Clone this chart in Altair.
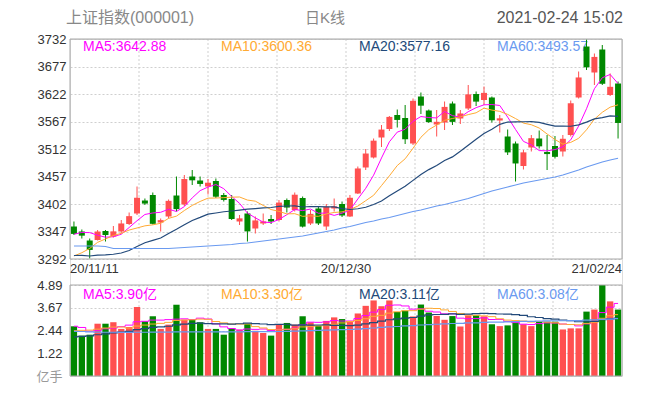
import altair as alt
import pandas as pd

# ---------------- data ----------------
dates = ["2020-11-11","2020-11-12","2020-11-13","2020-11-16","2020-11-17","2020-11-18","2020-11-19","2020-11-20",
         "2020-11-23","2020-11-24","2020-11-25","2020-11-26","2020-11-27","2020-11-30",
         "2020-12-01","2020-12-02","2020-12-03","2020-12-04","2020-12-07","2020-12-08","2020-12-09","2020-12-10",
         "2020-12-11","2020-12-14","2020-12-15","2020-12-16","2020-12-17","2020-12-18","2020-12-21","2020-12-22",
         "2020-12-23","2020-12-24","2020-12-25","2020-12-28","2020-12-29","2020-12-30","2020-12-31",
         "2021-01-04","2021-01-05","2021-01-06","2021-01-07","2021-01-08","2021-01-11","2021-01-12","2021-01-13",
         "2021-01-14","2021-01-15","2021-01-18","2021-01-19","2021-01-20","2021-01-21","2021-01-22","2021-01-25",
         "2021-01-26","2021-01-27","2021-01-28","2021-01-29",
         "2021-02-01","2021-02-02","2021-02-03","2021-02-04","2021-02-05","2021-02-08","2021-02-09","2021-02-10",
         "2021-02-18","2021-02-19","2021-02-22","2021-02-23","2021-02-24"]

opens = [3357, 3347, 3329, 3330, 3348, 3337, 3347, 3362, 3383, 3409,
         3420, 3365, 3377, 3419, 3401, 3457, 3449, 3437, 3448, 3420,
         3412, 3367, 3383, 3353, 3363, 3372, 3370, 3410, 3390, 3414,
         3363, 3393, 3357, 3393, 3402, 3377, 3423, 3475, 3495, 3535,
         3552, 3580, 3574, 3523, 3617, 3589, 3561, 3565, 3603, 3573,
         3593, 3622, 3610, 3615, 3569, 3537, 3523, 3478, 3515, 3533,
         3506, 3518, 3507, 3540, 3615, 3717, 3665, 3711, 3620, 3643]

highs = [3367, 3351, 3333, 3350, 3350, 3358, 3370, 3385, 3437, 3413,
         3425, 3373, 3411, 3457, 3460, 3470, 3457, 3452, 3453, 3424,
         3420, 3380, 3387, 3377, 3383, 3380, 3410, 3413, 3425, 3417,
         3390, 3397, 3402, 3413, 3407, 3420, 3477, 3512, 3533, 3560,
         3578, 3591, 3600, 3613, 3625, 3591, 3590, 3607, 3607, 3590,
         3640, 3627, 3637, 3617, 3580, 3551, 3527, 3510, 3540, 3549,
         3540, 3538, 3540, 3609, 3667, 3731, 3703, 3720, 3663, 3647]

lows = [3340, 3333, 3293, 3329, 3327, 3335, 3343, 3360, 3380, 3400,
        3361, 3347, 3373, 3387, 3398, 3440, 3437, 3421, 3414, 3407,
        3370, 3360, 3327, 3343, 3360, 3362, 3367, 3385, 3387, 3355,
        3360, 3360, 3350, 3387, 3376, 3376, 3422, 3470, 3493, 3516,
        3548, 3555, 3522, 3520, 3582, 3564, 3537, 3550, 3560, 3562,
        3590, 3598, 3600, 3565, 3545, 3500, 3447, 3471, 3507, 3513,
        3470, 3493, 3497, 3537, 3613, 3670, 3640, 3640, 3618, 3533]

closes = [3342.20, 3338.68, 3310.10, 3346.97, 3339.90, 3347.30, 3363.09, 3377.73, 3414.49, 3402.82,
          3362.33, 3369.73, 3408.31, 3391.76, 3451.94, 3449.38, 3442.14, 3444.58, 3416.60, 3410.18,
          3371.96, 3373.28, 3347.19, 3369.12, 3367.23, 3366.98, 3404.87, 3394.90, 3420.57, 3356.78,
          3382.32, 3363.11, 3396.56, 3397.29, 3379.04, 3414.45, 3473.07, 3502.96, 3528.68, 3550.88,
          3576.20, 3570.11, 3531.50, 3608.34, 3598.65, 3565.90, 3566.38, 3596.22, 3566.26, 3583.09,
          3621.26, 3606.75, 3624.24, 3569.43, 3573.34, 3505.18, 3483.07, 3505.28, 3533.68, 3517.31,
          3501.86, 3496.33, 3532.44, 3603.49, 3655.09, 3675.36, 3696.17, 3642.44, 3636.36, 3564.08]

# volume, 亿手
volumes = [2.67, 2.17, 2.22, 2.81, 2.81, 2.89, 2.53, 2.63, 3.71, 2.94,
           3.21, 2.53, 2.76, 3.83, 3.03, 3.03, 2.89, 2.53, 2.53, 2.22,
           2.58, 2.49, 2.81, 2.43, 2.31, 2.17, 2.76, 2.85, 2.76, 3.21,
           2.89, 2.71, 2.96, 3.15, 3.06, 2.90, 3.36, 3.77, 4.06, 3.75,
           4.06, 3.44, 3.51, 3.20, 3.84, 3.41, 3.23, 3.02, 3.22, 2.66,
           3.26, 3.27, 3.21, 2.78, 2.68, 2.72, 2.96, 2.78, 2.68, 2.94,
           2.92, 2.92, 2.50, 2.56, 2.56, 3.46, 3.57, 4.89, 4.01, 3.57]

# sessions before the window (estimated from where the MA lines start)
prior_closes = [3332, 3336, 3313, 3328, 3325, 3313, 3278, 3251, 3254, 3270,
                3273, 3225, 3225, 3272, 3278, 3320, 3312, 3373, 3360]
prior_volumes = [1.55, 1.60, 1.70, 1.90, 1.85, 1.75, 1.70, 1.80, 1.90, 1.85,
                 2.00, 2.10, 2.30, 2.20, 2.40, 2.50, 3.20, 2.60, 2.40]

# MA60 lines
ma60_price = [3318, 3318, 3318, 3318, 3317, 3313, 3313, 3313, 3313, 3313,
              3313, 3313, 3313, 3314, 3315, 3316, 3317, 3318, 3319, 3320,
              3321, 3323, 3324, 3326, 3328, 3330, 3332, 3334, 3336, 3338,
              3341, 3344, 3347, 3350, 3354, 3357, 3361, 3365, 3368, 3372,
              3375, 3379, 3383, 3387, 3390, 3394, 3398, 3401, 3405, 3409,
              3413, 3418, 3423, 3428, 3432, 3436, 3440, 3444, 3447, 3450,
              3453, 3456, 3460, 3465, 3470, 3476, 3481, 3486, 3490, 3493.57]
ma60_volume = [2.40, 2.39, 2.37, 2.36, 2.35, 2.35, 2.34, 2.34, 2.35, 2.35,
               2.36, 2.36, 2.36, 2.37, 2.37, 2.37, 2.37, 2.37, 2.37, 2.37,
               2.37, 2.37, 2.38, 2.38, 2.38, 2.38, 2.39, 2.40, 2.41, 2.43,
               2.44, 2.45, 2.47, 2.48, 2.49, 2.50, 2.52, 2.55, 2.58, 2.61,
               2.64, 2.66, 2.69, 2.71, 2.74, 2.76, 2.78, 2.80, 2.82, 2.83,
               2.85, 2.86, 2.88, 2.89, 2.90, 2.91, 2.92, 2.93, 2.94, 2.95,
               2.96, 2.97, 2.97, 2.98, 2.98, 3.00, 3.02, 3.04, 3.06, 3.08]

title_left = "上证指数(000001)"
title_mid = "日K线"
title_right = "2021-02-24 15:02"
price_ticks = [3292, 3347, 3402, 3457, 3512, 3567, 3622, 3677, 3732]
volume_ticks = [0, 1.22, 2.44, 3.67, 4.89]
date_labels = ["20/11/11", "20/12/30", "21/02/24"]
price_legend = ["MA5:3642.88", "MA10:3600.36", "MA20:3577.16", "MA60:3493.57"]
volume_legend = ["MA5:3.90亿", "MA10:3.30亿", "MA20:3.11亿", "MA60:3.08亿"]
ma_names = ["MA5", "MA10", "MA20", "MA60"]
ma_colors = ["#ff00ff", "#ffaa33", "#22497a", "#6a9af0"]

# ---------------- styles / layout ----------------
RED, GREEN = "#ff5050", "#008800"
FONT = "Liberation Sans, Arial, Noto Sans CJK SC, sans-serif"
W, H = 552, 337
PH = 220           # price panel height
VT, VB = 246, 337  # volume panel top / bottom
N = len(dates)
assert all(len(a) == N for a in [opens, highs, lows, closes, volumes, ma60_price, ma60_volume])

c_all = pd.Series(prior_closes + closes)
v_all = pd.Series(prior_volumes + volumes)
k = len(prior_closes)

df = pd.DataFrame({
    "date": dates, "i": range(N), "open": opens, "high": highs, "low": lows,
    "close": closes, "vol": volumes,
})
df["xc"] = df["i"] + 0.5
df["x0"] = df["i"] + 0.12
df["x1"] = df["i"] + 0.88
df["vx0"] = df["i"] + 0.1
df["vx1"] = df["i"] + 0.9
df["btop"] = df[["open", "close"]].max(axis=1)
df["bbot"] = df[["open", "close"]].min(axis=1)
df["dir"] = ["up" if c >= o else "down" for o, c in zip(opens, closes)]

ma_p = pd.DataFrame({"xc": df["xc"]})
ma_v = pd.DataFrame({"xc": df["xc"]})
for n, nm in zip([5, 10, 20], ma_names[:3]):
    ma_p[nm] = c_all.rolling(n).mean().iloc[k:].values
    ma_v[nm] = v_all.rolling(n).mean().iloc[k:].values
ma_p["MA60"] = ma60_price
ma_v["MA60"] = ma60_volume

xs = alt.Scale(domain=[0, N], nice=False, zero=False)
ysp = alt.Scale(domain=[price_ticks[0], price_ticks[-1]], range=[PH, 0], nice=False, zero=False)
ysv = alt.Scale(domain=[0, volume_ticks[-1]], range=[VB, VT], nice=False, zero=False)
color = alt.Color("dir:N", scale=alt.Scale(domain=["up", "down"], range=[RED, GREEN]), legend=None)

one = pd.DataFrame({"a": [0]})
grid_x = pd.DataFrame({"gx": [N * j / 8 for j in range(1, 8)]})

# ---------------- price panel ----------------
price_axis = alt.Axis(values=price_ticks, format="d", grid=True, gridDash=[2, 2], gridColor="#cfcfcf",
                      ticks=False, domain=False, labelPadding=4, labelFontSize=13,
                      labelColor="#333333", labelFont=FONT, title=None)

vgrid_p = alt.Chart(grid_x).mark_rule(color="#cfcfcf", strokeDash=[2, 2]).encode(
    x=alt.X("gx:Q", scale=xs, axis=None), y=alt.value(0), y2=alt.value(PH))

legend_p = [
    alt.Chart(one).mark_text(align="left", baseline="middle", fontSize=14, font=FONT, color=col)
    .encode(x=alt.value(13 + 138 * j), y=alt.value(8), text=alt.value(lab))
    for j, (lab, col) in enumerate(zip(price_legend, ma_colors))
]

wicks = alt.Chart(df).mark_rule(strokeWidth=1).encode(
    x=alt.X("xc:Q", scale=xs, axis=None),
    y=alt.Y("low:Q", scale=ysp, axis=price_axis),
    y2="high:Q", color=color)
bodies = alt.Chart(df).mark_rect().encode(
    x=alt.X("x0:Q", scale=xs, axis=None), x2="x1:Q",
    y=alt.Y("btop:Q", scale=ysp), y2="bbot:Q", color=color)

ma_lines_p = [
    alt.Chart(ma_p).mark_line(color=col, strokeWidth=1.2 if nm in ("MA20", "MA60") else 1)
    .encode(x=alt.X("xc:Q", scale=xs, axis=None), y=alt.Y(f"{nm}:Q", scale=ysp))
    for nm, col in zip(ma_names, ma_colors)
]

border_p = alt.Chart(one).mark_rect(fillOpacity=0, stroke="#a8a8a8", strokeWidth=1).encode(
    x=alt.value(0), x2=alt.value(W), y=alt.value(0), y2=alt.value(PH))

txt = dict(font=FONT, baseline="middle")
titles = [
    alt.Chart(one).mark_text(align="left", fontSize=16, color="#888888", **txt)
    .encode(x=alt.value(-4), y=alt.value(-21), text=alt.value(title_left)),
    alt.Chart(one).mark_text(align="center", fontSize=15, color="#888888", **txt)
    .encode(x=alt.value(255), y=alt.value(-21), text=alt.value(title_mid)),
    alt.Chart(one).mark_text(align="right", fontSize=16, color="#555555", **txt)
    .encode(x=alt.value(553), y=alt.value(-21), text=alt.value(title_right)),
]
dpos = pd.DataFrame({"x": [0, N / 2, N], "t": date_labels})
date_txt = [
    alt.Chart(dpos.iloc[[j]]).mark_text(align=al, fontSize=13, color="#333333", **txt)
    .encode(x=alt.X("x:Q", scale=xs, axis=None), y=alt.value(PH + 10), text="t:N")
    for j, al in enumerate(["left", "center", "right"])
]

price = alt.layer(vgrid_p, *legend_p, wicks, bodies, *ma_lines_p, border_p, *titles, *date_txt)

# ---------------- volume panel ----------------
vol_axis = alt.Axis(values=volume_ticks, grid=True, gridDash=[2, 2], gridColor="#cfcfcf",
                    ticks=False, domain=False, labelPadding=8, labelFontSize=13, orient="left",
                    labelFont=FONT, title=None,
                    labelExpr="datum.value == 0 ? '亿手' : format(datum.value, '.2f')",
                    labelColor={"condition": {"test": "datum.value == 0", "value": "#999999"},
                                "value": "#333333"})

vgrid_v = alt.Chart(grid_x).mark_rule(color="#cfcfcf", strokeDash=[2, 2]).encode(
    x=alt.X("gx:Q", scale=xs, axis=None), y=alt.value(VT), y2=alt.value(VB))
vbars = alt.Chart(df).mark_rect().encode(
    x=alt.X("vx0:Q", scale=xs, axis=None), x2="vx1:Q",
    y=alt.Y("vol:Q", scale=ysv, axis=vol_axis), y2=alt.datum(0), color=color)
ma_lines_v = [
    alt.Chart(ma_v).mark_line(color=col, strokeWidth=1.2 if nm in ("MA20", "MA60") else 1, interpolate="step")
    .encode(x=alt.X("xc:Q", scale=xs, axis=None), y=alt.Y(f"{nm}:Q", scale=ysv))
    for nm, col in zip(ma_names, ma_colors)
]
legend_v = [
    alt.Chart(one).mark_text(align="left", baseline="middle", fontSize=14, font=FONT, color=col)
    .encode(x=alt.value(13 + 138 * j), y=alt.value(VT + 10), text=alt.value(lab))
    for j, (lab, col) in enumerate(zip(volume_legend, ma_colors))
]
border_v = alt.Chart(one).mark_rect(fillOpacity=0, stroke="#a8a8a8", strokeWidth=1).encode(
    x=alt.value(0), x2=alt.value(W), y=alt.value(VT), y2=alt.value(VB))

volume = alt.layer(vgrid_v, vbars, *ma_lines_v, *legend_v, border_v)

chart = alt.layer(price, volume).resolve_scale(y="independent").properties(
    width=W, height=H,
    autosize=alt.AutoSizeParams(type="none"),
    padding={"left": 62, "top": 31, "right": 10, "bottom": 12},
).configure_view(strokeWidth=0).configure(background="white")

chart.save("out.html", embed_options={"renderer": "svg", "actions": False})
